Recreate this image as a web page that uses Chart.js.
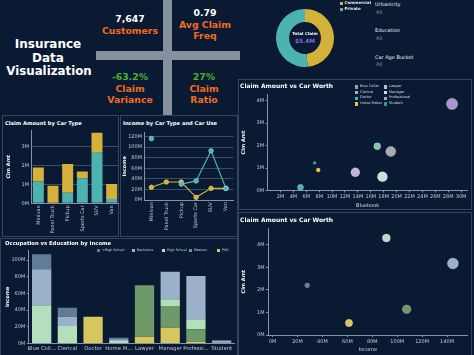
<!DOCTYPE html>
<html><head><meta charset="utf-8">
<script src="https://cdn.jsdelivr.net/npm/chart.js@4.4.1/dist/chart.umd.min.js"></script>
<style>
html,body{margin:0;padding:0;background:#0a1a33;}
body{position:relative;width:474px;height:355px;overflow:hidden;font-family:"DejaVu Sans",sans-serif;}
.box{position:absolute;box-sizing:border-box;border:1px solid #34445f;}
.bar{position:absolute;background:#86909f;}
.tx{position:absolute;white-space:nowrap;line-height:1;}
.sw{position:absolute;}
canvas{position:absolute;}
</style></head><body>
<div class="bar" style="left:163px;top:0;width:9px;height:115px"></div>
<div class="bar" style="left:96px;top:51px;width:144px;height:9px"></div>
<div class="box" style="left:2px;top:115px;width:117px;height:122px"></div>
<div class="box" style="left:120px;top:115px;width:118px;height:122px"></div>
<div class="box" style="left:0px;top:238px;width:238px;height:118px"></div>
<div class="box" style="left:238px;top:79px;width:234px;height:131px"></div>
<div class="box" style="left:238px;top:212px;width:234px;height:144px"></div>
<canvas id="c1" width="117" height="107" style="left:2px;top:128px"></canvas>
<canvas id="c2" width="118" height="107" style="left:120px;top:128px"></canvas>
<canvas id="c3" width="236" height="122" style="left:238px;top:88px"></canvas>
<canvas id="c4" width="236" height="133" style="left:238px;top:222px"></canvas>
<canvas id="c5" width="238" height="109" style="left:0px;top:246px"></canvas>
<canvas id="c6" width="58" height="58" style="left:276px;top:9px"></canvas>
<script>
// ---------------- DATA ----------------
const kpiCustomers = '7,647';
const kpiClaimFreq = '0.79';
const kpiClaimVariance = '-63.2%';
const kpiClaimRatio = '27%';
const totalClaim = '$5.4M';

const carUse = ['Commercial', 'Private'];
const claimByUse = [2.62, 2.78];

const carTypes = ['Minivan', 'Panel Truck', 'Pickup', 'Sports Car', 'SUV', 'Van'];
const claimPrivate = [1.15, 0, 0.56, 1.32, 2.68, 0.23];
const claimCommercial = [0.75, 0.93, 1.52, 0.36, 1.06, 0.79];
const claimTicks = [0, 1, 2, 3];

const incomePrivate = [116, null, 30, 36, 93, 22];
const incomeCommercial = [24, 34, 34, 5, 22, 22];
const incomeTicks = [0, 20, 40, 60, 80, 100, 120];

const occupations = ['Blue Collar', 'Clerical', 'Doctor', 'Home Maker', 'Lawyer', 'Manager', 'Professional', 'Student'];
const occBluebook = [28.6, 17.0, 5.1, 7.85, 13.6, 17.8, 19.1, 7.3];
const occClaimAmt = [3.86, 1.97, 0.14, 0.91, 0.81, 0.61, 1.74, 1.23];
const occSize = [32, 12, 9, 4, 20, 25, 25, 1.7];
const bluebookTicks = [2, 4, 6, 8, 10, 12, 14, 16, 18, 20, 22, 24, 26, 28, 30];
const scatterYTicks = [0, 1, 2, 3, 4];

const education = ['<High School', 'Bachelors', 'High School', 'Masters', 'PhD'];
const eduIncome = [27.8, 144.7, 91.3, 107.6, 61.3];
const eduClaimAmt = [2.2, 3.17, 4.3, 1.14, 0.53];
const eduSize = [5.3, 30, 16, 18.5, 13.7];
const incomeXTicks = [0, 20, 40, 60, 80, 100, 120, 140];

const occLabels = ['Blue Coll...', 'Clerical', 'Doctor', 'Home M...', 'Lawyer', 'Manager', 'Professi...', 'Student'];
const incLtHS    = [18, 11, 0, 2, 0, 0, 0, 0];
const incBach    = [43, 11, 0, 2, 0, 33, 52, 2.5];
const incHS      = [46, 21, 0, 3, 0, 8, 12, 1];
const incMasters = [0, 0, 0, 0, 62, 26, 15, 0];
const incPhD     = [0, 0, 32, 0, 8, 19, 2, 0];
const occIncTicks = [0, 20, 40, 60, 80, 100];

// ---------------- STYLE ----------------
const TEAL = '#4cb3b0', GOLD = '#d4b23a';
const occColors = ['#a895cf', '#82c9a2', '#45b1ba', '#e6c93a', '#bcb6dc', '#c3e4dc', '#a7aaae', '#3f8e98'];
const eduColors = ['#627c95', '#9bb1c9', '#b3dfbc', '#6d9a68', '#d5c75e'];
const GRIDC = '#3d4c66', AXC = '#8593a8', TICKC = '#c0c7d2';
const ORANGE = '#f26b1d', GREEN = '#4fae32';

Chart.defaults.font.family = '"DejaVu Sans", sans-serif';
Chart.defaults.font.size = 5;
Chart.defaults.color = TICKC;
Chart.defaults.animation = false;
Chart.defaults.responsive = false;
Chart.defaults.plugins.legend.display = false;
Chart.defaults.plugins.tooltip.enabled = false;

function T(s, x, y, size, color, bold, align) {
  const d = document.createElement('div');
  d.className = 'tx'; d.textContent = s;
  d.style.left = x + 'px'; d.style.top = y + 'px';
  d.style.fontSize = size + 'px'; d.style.color = color;
  d.style.fontWeight = bold ? 'bold' : 'normal';
  d.style.transform = align === 'c' ? 'translate(-50%,-50%)' : 'translate(0,-50%)';
  document.body.appendChild(d);
}
function SW(x, y, s, color) {
  const d = document.createElement('div');
  d.className = 'sw';
  d.style.left = x + 'px'; d.style.top = (y - s / 2) + 'px';
  d.style.width = s + 'px'; d.style.height = s + 'px'; d.style.background = color;
  document.body.appendChild(d);
}
const noPad = s => { s.paddingTop = 0; s.paddingBottom = 0; s.paddingLeft = 0; s.paddingRight = 0; };
const fixW = w => s => { s.width = w; noPad(s); };
const fixH = h => s => { s.height = h; noPad(s); };
const setTicks = arr => s => { s.ticks = arr.map(v => ({ value: v })); };
const fmtM = v => v + 'M';

// ---------------- TEXT ----------------
T('Insurance', 48, 44, 12, '#fff', true, 'c');
T('Data', 48, 58, 12, '#fff', true, 'c');
T('Visualization', 49, 72, 11.8, '#fff', true, 'c');
T(kpiCustomers, 130, 19, 9.3, '#fff', true, 'c');
T('Customers', 130, 31, 9.3, ORANGE, true, 'c');
T(kpiClaimFreq, 205, 13, 9.3, '#fff', true, 'c');
T('Avg Claim', 205, 25, 9.3, ORANGE, true, 'c');
T('Freq', 205, 36, 9.3, ORANGE, true, 'c');
T(kpiClaimVariance, 130, 77, 9.3, GREEN, true, 'c');
T('Claim', 130, 89, 9.3, ORANGE, true, 'c');
T('Variance', 130, 100, 9.3, ORANGE, true, 'c');
T(kpiClaimRatio, 204, 77, 9.3, GREEN, true, 'c');
T('Claim', 204, 89, 9.3, ORANGE, true, 'c');
T('Ratio', 204, 100, 9.3, ORANGE, true, 'c');

T('Urbanicity', 375, 4, 5, '#e8ecf2', false, 'l');
T('All', 376, 12, 5, '#8f99a8', false, 'l');
T('Education', 375, 30, 5, '#e8ecf2', false, 'l');
T('All', 376, 38, 5, '#8f99a8', false, 'l');
T('Car Age Bucket', 375, 57, 5, '#e8ecf2', false, 'l');
T('All', 376, 64, 5, '#8f99a8', false, 'l');

T('Total Claim', 305, 34.3, 4.1, '#fff', true, 'c');
T(totalClaim, 305, 41.7, 5.8, '#8a6af0', true, 'c');
carUse.forEach((u, i) => { SW(339.5, 3 + i * 6, 3, [GOLD, TEAL][i]); T(u, 344.5, 3 + i * 6, 4, '#e8ecf2', true, 'l'); });

T('Claim Amount by Car Type', 5, 123.5, 5.2, '#fff', true, 'l');
T('Income by Car Type and Car Use', 123, 123.5, 5.2, '#fff', true, 'l');
T('Occupation vs Education by Income', 5, 244, 5.3, '#fff', true, 'l');
T('Claim Amount vs Car Worth', 240, 86, 6, '#fff', true, 'l');
T('Claim Amount vs Car Worth', 240, 220, 6, '#fff', true, 'l');

occupations.forEach((o, i) => {
  const col = Math.floor(i / 4), row = i % 4;
  const x = 355 + col * 29, y = 87 + row * 5.7;
  SW(x, y, 3.3, occColors[i]);
  T(o, x + 5, y, 3.5, '#d8dde5', false, 'l');
});
const eduLegX = [97, 132, 162, 189, 217];
education.forEach((e, i) => {
  SW(eduLegX[i], 250.7, 3, eduColors[i]);
  T(e, eduLegX[i] + 5, 250.7, 3.3, '#d8dde5', false, 'l');
});

// ---------------- CHARTS ----------------
const noGrid = { display: false, drawTicks: false, tickLength: 0 };

new Chart(document.getElementById('c1'), {
  type: 'bar',
  data: { labels: carTypes, datasets: [
    { label: 'Private', data: claimPrivate, backgroundColor: TEAL },
    { label: 'Commercial', data: claimCommercial, backgroundColor: GOLD }] },
  options: {
    layout: { padding: { top: 2, right: 0, left: 0, bottom: 0 } },
    datasets: { bar: { barPercentage: 0.75, categoryPercentage: 1 } },
    scales: {
      x: { stacked: true, grid: noGrid, border: { color: AXC },
        ticks: { minRotation: 90, maxRotation: 90, autoSkip: false, padding: 2 }, afterFit: fixH(31.7) },
      y: { stacked: true, min: 0, max: 3.88, afterBuildTicks: setTicks(claimTicks),
        grid: { color: GRIDC, drawTicks: false }, border: { color: AXC },
        ticks: { padding: 2, callback: fmtM },
        title: { display: true, text: 'Clm Amt', color: '#fff', font: { size: 5, weight: 'bold' }, padding: { top: 4, bottom: 0 } },
        afterFit: fixW(29) }
    }
  }
});

new Chart(document.getElementById('c2'), {
  type: 'line',
  data: { labels: carTypes, datasets: [
    { label: 'Private', data: incomePrivate, borderColor: TEAL, backgroundColor: TEAL, pointBorderColor: '#9fe0dc', spanGaps: false },
    { label: 'Commercial', data: incomeCommercial, borderColor: GOLD, backgroundColor: GOLD, pointBorderColor: '#f0d878' }] },
  options: {
    layout: { padding: { top: 2, right: 3, left: 0, bottom: 0 } },
    datasets: { line: { borderWidth: 1.2, pointRadius: 2.3, pointBorderWidth: 0.6 } },
    scales: {
      x: { grid: noGrid, border: { color: AXC }, offset: true,
        ticks: { minRotation: 90, maxRotation: 90, autoSkip: false, padding: 2 }, afterFit: fixH(35) },
      y: { min: 0, max: 127.3, afterBuildTicks: setTicks(incomeTicks),
        grid: { color: GRIDC, drawTicks: false }, border: { color: AXC },
        ticks: { padding: 2, callback: fmtM },
        title: { display: true, text: 'Income', color: '#fff', font: { size: 5, weight: 'bold' }, padding: { top: 1.7, bottom: 0 } },
        afterFit: fixW(24) }
    }
  }
});

function bubbleData(xs, ys, sz) { return xs.map((x, i) => ({ x: x, y: ys[i], r: Math.sqrt(sz[i]) })); }
const flatTicks = { padding: 1.5, callback: fmtM, minRotation: 0, maxRotation: 0, autoSkip: false };

new Chart(document.getElementById('c3'), {
  type: 'bubble',
  data: { datasets: occupations.map((o, i) => ({
    label: o, data: [bubbleData(occBluebook, occClaimAmt, occSize)[i]],
    backgroundColor: occColors[i], borderColor: 'rgba(255,255,255,0.3)', borderWidth: 0.8 })) },
  options: {
    layout: { padding: { top: 5, right: 3.3, left: 0, bottom: 0 } },
    scales: {
      x: { type: 'linear', min: 0, max: 31, afterBuildTicks: setTicks(bluebookTicks),
        grid: { drawOnChartArea: false, color: AXC, tickLength: 2 }, border: { color: AXC },
        ticks: flatTicks,
        title: { display: true, text: 'Bluebook', color: '#d8dde5', font: { size: 5 }, padding: { top: 0, bottom: 1 } },
        afterFit: fixH(19.5) },
      y: { min: 0, max: 4.28, afterBuildTicks: setTicks(scatterYTicks),
        grid: { drawOnChartArea: false, color: AXC, tickLength: 2 }, border: { color: AXC },
        ticks: flatTicks,
        title: { display: true, text: 'Clm Amt', color: '#fff', font: { size: 5, weight: 'bold' }, padding: { top: 3, bottom: 0 } },
        afterFit: fixW(29.6) }
    }
  }
});

new Chart(document.getElementById('c4'), {
  type: 'bubble',
  data: { datasets: education.map((e, i) => ({
    label: e, data: [bubbleData(eduIncome, eduClaimAmt, eduSize)[i]],
    backgroundColor: eduColors[i], borderColor: 'rgba(255,255,255,0.3)', borderWidth: 0.8 })) },
  options: {
    layout: { padding: { top: 4.7, right: 4, left: 0, bottom: 0 } },
    scales: {
      x: { type: 'linear', min: -3.7, max: 156.6, afterBuildTicks: setTicks(incomeXTicks),
        grid: { drawOnChartArea: false, color: AXC, tickLength: 2 }, border: { color: AXC },
        ticks: flatTicks,
        title: { display: true, text: 'Income', color: '#d8dde5', font: { size: 5 }, padding: { top: 0, bottom: 2 } },
        afterFit: fixH(20) },
      y: { min: 0, max: 4.73, afterBuildTicks: setTicks(scatterYTicks),
        grid: { drawOnChartArea: false, color: AXC, tickLength: 2 }, border: { color: AXC },
        ticks: flatTicks,
        title: { display: true, text: 'Clm Amt', color: '#fff', font: { size: 5, weight: 'bold' }, padding: { top: 3, bottom: 0 } },
        afterFit: fixW(30) }
    }
  }
});

new Chart(document.getElementById('c5'), {
  type: 'bar',
  data: { labels: occLabels, datasets: [
    { label: 'PhD', data: incPhD, backgroundColor: eduColors[4] },
    { label: 'Masters', data: incMasters, backgroundColor: eduColors[3] },
    { label: 'High School', data: incHS, backgroundColor: eduColors[2] },
    { label: 'Bachelors', data: incBach, backgroundColor: eduColors[1] },
    { label: '<High School', data: incLtHS, backgroundColor: eduColors[0] }] },
  options: {
    layout: { padding: { top: 4.2, right: 3.5, left: 0, bottom: 0 } },
    datasets: { bar: { barPercentage: 0.75, categoryPercentage: 1 } },
    scales: {
      x: { stacked: true, grid: noGrid, border: { color: AXC },
        ticks: { minRotation: 0, maxRotation: 0, autoSkip: false, padding: 1.5, font: { size: 5.3 } }, afterFit: fixH(11.5) },
      y: { stacked: true, min: 0, max: 112, afterBuildTicks: setTicks(occIncTicks),
        grid: { drawOnChartArea: false, color: AXC, tickLength: 2 }, border: { color: AXC },
        ticks: { padding: 1.5, callback: fmtM },
        title: { display: true, text: 'Income', color: '#fff', font: { size: 5, weight: 'bold' }, padding: { top: 4.3, bottom: 0 } },
        afterFit: fixW(28.8) }
    }
  }
});

new Chart(document.getElementById('c6'), {
  type: 'doughnut',
  data: { labels: carUse, datasets: [{ data: claimByUse, backgroundColor: [GOLD, TEAL], borderWidth: 0 }] },
  options: { cutout: '55%', layout: { padding: 0 } }
});
</script>
</body></html>
